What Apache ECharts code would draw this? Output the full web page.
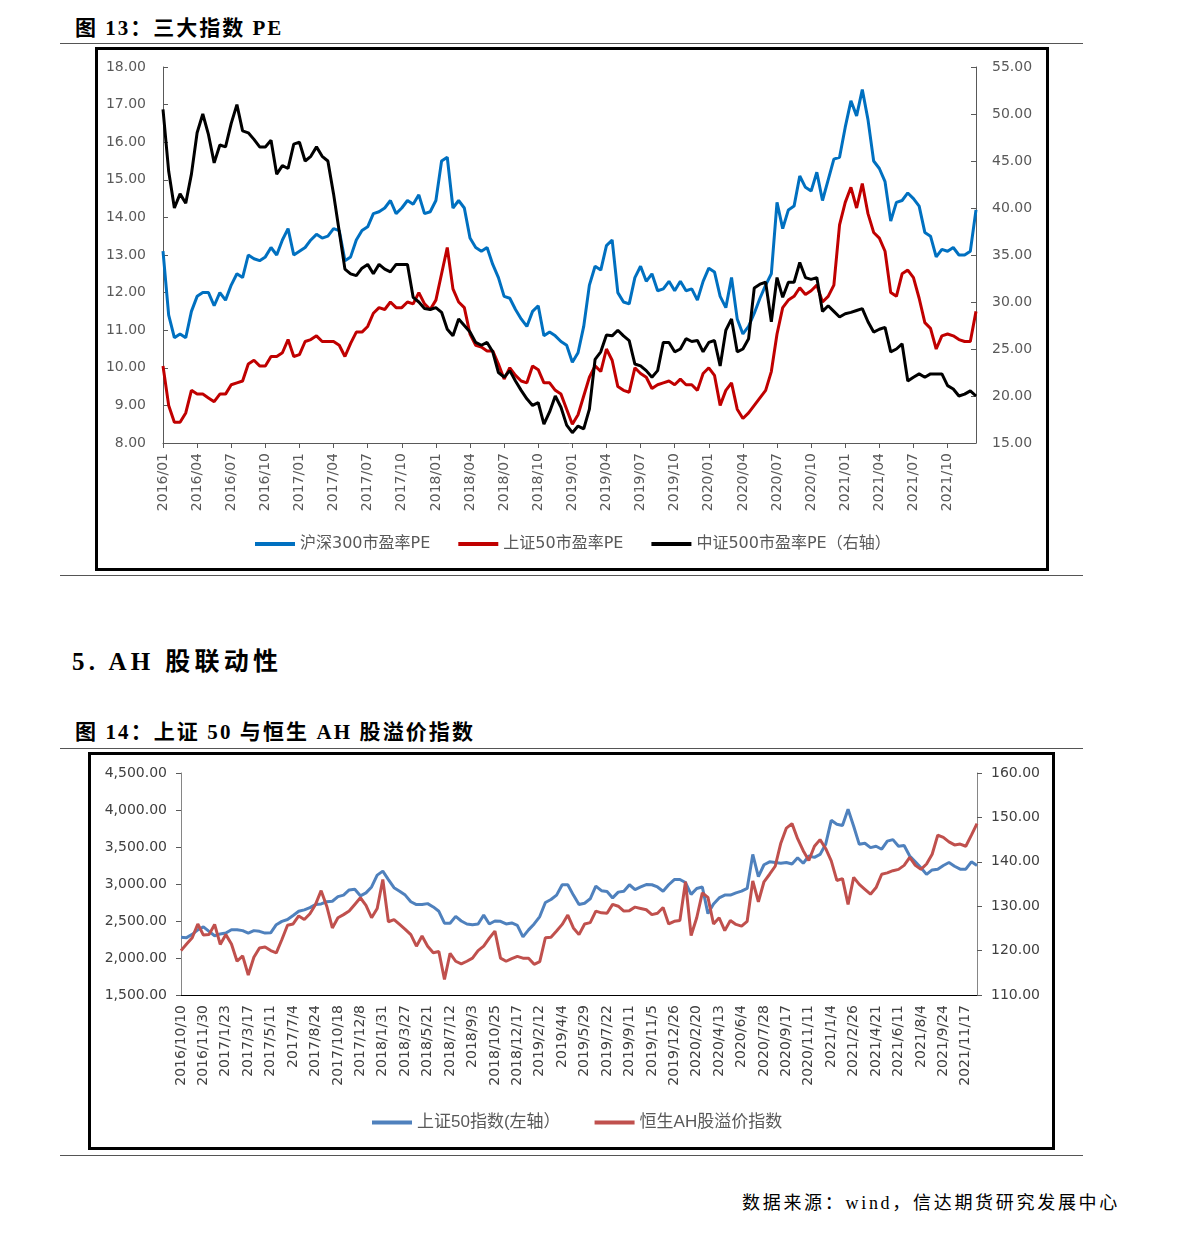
<!DOCTYPE html>
<html>
<head>
<meta charset="utf-8">
<script src="https://cdn.jsdelivr.net/npm/echarts/dist/echarts.min.js"></script>
<style>
  body { margin: 0; background: #fff; }
  #page { position: relative; width: 1191px; height: 1234px; overflow: hidden; background: #fff; }
  .t { position: absolute; line-height: 1; white-space: nowrap; color: #000;
       font-family: "Liberation Serif", "Noto Sans CJK SC", serif; font-weight: bold; }
  .rule { position: absolute; left: 60px; width: 1023px; height: 1px; background: #555; }
  .box { position: absolute; border: 3px solid #000; box-sizing: border-box; }
  #chart { position: absolute; left: 0; top: 0; width: 1191px; height: 1234px; }
</style>
</head>
<body>
<div id="page">
  <div class="t" style="left:75px;top:18px;font-size:21px;letter-spacing:2px;">图 13：三大指数 PE</div>
  <div class="rule" style="top:43px;"></div>
  <div class="box" style="left:95px;top:47px;width:954px;height:524px;"></div>
  <div class="rule" style="top:575px;"></div>

  <div class="t" style="left:72px;top:649px;font-size:25px;letter-spacing:4.3px;">5. AH 股联动性</div>
  <div class="t" style="left:75px;top:722px;font-size:21px;letter-spacing:2.1px;">图 14：上证 50 与恒生 AH 股溢价指数</div>
  <div class="rule" style="top:748px;"></div>
  <div class="box" style="left:88px;top:752px;width:967px;height:398px;"></div>
  <div class="rule" style="top:1155px;"></div>

  <div class="t" style="left:742px;top:1194px;font-size:18px;font-weight:normal;letter-spacing:2.7px;">数据来源：wind，信达期货研究发展中心</div>

  <div id="chart"></div>
</div>
<script>
// ---- 图13 三大指数PE, 半月取样 (2016/01 - 2021/12) ----
const peYears = [2016, 2017, 2018, 2019, 2020, 2021];
const peDates = [];
peYears.forEach(function (y) {
    for (let m = 1; m <= 12; m++) {
        const mm = String(m).padStart(2, '0');
        peDates.push(y + '/' + mm + '/01', y + '/' + mm + '/16');
    }
});

// 沪深300市盈率PE (左轴)
const hs300Pe = [
    13.1, 11.4, 10.8, 10.9, 10.8, 11.5, 11.9, 12.0, 12.0, 11.65, 12.0, 11.8, 12.2, 12.5, 12.4, 13.0, 12.9, 12.85, 12.95, 13.2, 13.0, 13.4, 13.7, 13.0,
    13.1, 13.2, 13.4, 13.55, 13.45, 13.5, 13.7, 13.65, 12.85, 12.95, 13.4, 13.65, 13.75, 14.1, 14.15, 14.25, 14.45, 14.1, 14.25, 14.45, 14.35, 14.6, 14.1, 14.15,
    14.45, 15.5, 15.6, 14.25, 14.45, 14.25, 13.45, 13.2, 13.1, 13.2, 12.75, 12.4, 11.9, 11.85, 11.55, 11.3, 11.1, 11.5, 11.65, 10.85, 10.95, 10.85, 10.7, 10.6,
    10.15, 10.4, 11.1, 12.2, 12.7, 12.6, 13.25, 13.4, 12.0, 11.75, 11.7, 12.4, 12.7, 12.3, 12.5, 12.05, 12.1, 12.3, 12.05, 12.3, 12.05, 12.1, 11.8, 12.3,
    12.65, 12.55, 11.9, 11.6, 12.4, 11.3, 10.9, 11.1, 11.45, 11.85, 12.2, 12.5, 14.4, 13.7, 14.2, 14.3, 15.1, 14.8, 14.7, 15.2, 14.45, 15.0, 15.55, 15.6,
    16.4, 17.1, 16.7, 17.4, 16.6, 15.5, 15.3, 14.95, 13.9, 14.4, 14.45, 14.65, 14.5, 14.3, 13.6, 13.5, 12.95, 13.15, 13.1, 13.2, 13.0, 13.0, 13.1, 14.2
];
// 上证50市盈率PE (左轴)
const sz50Pe = [
    10.05, 9.0, 8.55, 8.55, 8.8, 9.4, 9.3, 9.3, 9.2, 9.1, 9.3, 9.3, 9.55, 9.6, 9.65, 10.1, 10.2, 10.05, 10.05, 10.3, 10.3, 10.4, 10.75, 10.3,
    10.35, 10.7, 10.75, 10.85, 10.7, 10.7, 10.7, 10.6, 10.3, 10.65, 10.95, 10.95, 11.1, 11.45, 11.6, 11.55, 11.75, 11.6, 11.6, 11.75, 11.7, 12.0, 11.7, 11.55,
    11.8, 12.5, 13.2, 12.1, 11.75, 11.6, 10.9, 10.6, 10.55, 10.45, 10.45, 10.1, 9.7, 10.0, 9.8, 9.65, 9.6, 10.05, 9.95, 9.6, 9.6, 9.4, 9.3, 8.9,
    8.5, 8.75, 9.25, 9.75, 10.05, 9.9, 10.5, 10.2, 9.5, 9.4, 9.35, 10.0, 9.85, 9.75, 9.45, 9.55, 9.6, 9.65, 9.55, 9.7, 9.55, 9.55, 9.4, 9.85,
    10.0, 9.8, 9.0, 9.4, 9.6, 8.9, 8.65, 8.8, 9.0, 9.2, 9.4, 9.9, 10.9, 11.6, 11.8, 11.9, 12.13, 11.95, 12.05, 12.2, 11.75, 11.9, 12.2, 13.8,
    14.4, 14.8, 14.25, 14.9, 14.1, 13.6, 13.45, 13.1, 12.0, 11.9, 12.5, 12.6, 12.4, 11.85, 11.2, 11.05, 10.5, 10.85, 10.9, 10.85, 10.75, 10.7, 10.7, 11.5
];
// 中证500市盈率PE (右轴)
const csi500Pe = [
    50.5, 43.9, 40.0, 41.5, 40.5, 43.6, 48.0, 50.0, 47.8, 44.8, 46.7, 46.5, 49.0, 51.0, 48.2, 48.0, 47.3, 46.5, 46.5, 47.2, 43.6, 44.5, 44.2, 46.8,
    47.0, 45.0, 45.5, 46.5, 45.5, 45.0, 41.5, 37.5, 33.5, 33.0, 32.8, 33.6, 34.0, 33.0, 34.0, 33.5, 33.2, 34.0, 34.0, 34.0, 30.5, 30.0, 29.3, 29.2,
    29.4, 28.9, 27.1, 26.4, 28.2, 27.5, 26.8, 25.7, 25.4, 25.7, 24.7, 22.5, 22.0, 22.7, 21.6, 20.6, 19.7, 19.0, 19.3, 17.0, 18.3, 20.0, 18.8, 16.9,
    16.1, 16.8, 16.5, 18.6, 23.9, 24.7, 26.5, 26.4, 27.0, 26.4, 25.9, 23.4, 23.2, 22.7, 22.0, 22.7, 25.7, 25.7, 24.7, 25.0, 26.1, 25.8, 25.9, 24.7,
    25.7, 25.9, 23.2, 27.0, 28.2, 24.7, 25.0, 26.1, 31.5, 31.9, 32.1, 27.9, 32.6, 30.5, 32.1, 32.1, 34.2, 32.6, 32.4, 32.6, 29.0, 29.6, 29.0, 28.4,
    28.75, 28.9, 29.1, 29.3, 27.9, 26.8, 27.1, 27.3, 24.7, 25.0, 25.55, 21.6, 22.0, 22.35, 22.0, 22.35, 22.35, 22.35, 21.1, 20.75, 20.0, 20.2, 20.55, 20.0
];

// ---- 图14 上证50 与 恒生AH股溢价指数 ----
const ahTickDates = ['2016/10/10', '2016/11/30', '2017/1/23', '2017/3/17', '2017/5/11', '2017/7/4', '2017/8/24', '2017/10/18',
    '2017/12/8', '2018/1/31', '2018/3/27', '2018/5/21', '2018/7/12', '2018/9/3', '2018/10/25', '2018/12/17', '2019/2/12',
    '2019/4/4', '2019/5/29', '2019/7/22', '2019/9/11', '2019/11/5', '2019/12/26', '2020/2/20', '2020/4/13', '2020/6/4',
    '2020/7/28', '2020/9/17', '2020/11/11', '2021/1/4', '2021/2/26', '2021/4/21', '2021/6/11', '2021/8/4', '2021/9/24', '2021/11/17'];
const AH_STEP = 4; // 每个刻度间取 4 个点

// 上证50指数 (左轴)
const sz50Index = [
    2280, 2275, 2320, 2380, 2420, 2360, 2300, 2325, 2337, 2382, 2382, 2370, 2337, 2370, 2360, 2337, 2340, 2450, 2495, 2520, 2575, 2631, 2650, 2680, 2722, 2730, 2760, 2767, 2830, 2850, 2920, 2930, 2840, 2880, 2960,
    3120, 3174, 3060, 2950, 2903, 2850, 2760, 2722, 2722, 2735, 2690, 2631, 2470, 2470, 2563, 2500, 2460, 2450, 2460, 2580, 2460, 2500, 2495, 2460, 2473, 2440, 2285, 2380, 2460, 2560, 2750, 2790, 2850, 2990, 2990,
    2850, 2722, 2740, 2800, 2971, 2910, 2900, 2812, 2890, 2903, 2990, 2925, 2960, 2993, 2990, 2960, 2903, 2990, 3060, 3061, 3020, 2860, 2940, 2960, 2600, 2730, 2812, 2850, 2850, 2880, 2903, 2940, 3400, 3100, 3260,
    3300, 3290, 3280, 3290, 3270, 3355, 3280, 3378, 3360, 3400, 3536, 3860, 3808, 3790, 4011, 3780, 3536, 3550, 3491, 3510, 3470, 3580, 3600, 3510, 3520, 3378, 3300, 3220, 3130, 3190, 3200, 3250, 3290, 3240, 3200, 3200, 3300, 3250
];
// 恒生AH股溢价指数 (右轴)
const hsAhIndex = [
    120.0, 121.5, 122.9, 126.0, 123.5, 123.6, 125.9, 121.4, 123.6, 121.5, 117.6, 118.8, 114.5, 118.5, 120.6, 120.8, 120.0, 119.5, 122.5, 125.7, 126.0, 127.8, 127.0, 128.3, 130.4, 133.5, 130.0, 125.1, 127.4, 128.1, 128.9, 130.4, 131.9, 130.2, 127.4,
    129.5, 136.0, 126.5, 127.0, 125.9, 124.8, 123.6, 121.0, 123.3, 121.0, 119.5, 119.8, 113.5, 119.4, 117.6, 117.0, 117.6, 118.3, 120.0, 121.0, 122.8, 124.4, 118.3, 117.6, 118.2, 118.7, 118.3, 118.3, 116.9, 117.5, 122.9, 123.0, 124.4, 125.9, 128.0,
    125.1, 123.6, 126.0, 126.3, 128.9, 128.5, 128.4, 130.4, 130.0, 128.9, 129.0, 129.8, 129.5, 129.2, 128.1, 128.4, 129.7, 126.0, 126.6, 126.8, 135.5, 123.4, 127.4, 133.0, 132.0, 126.0, 127.4, 124.5, 126.8, 125.9, 125.5, 126.6, 135.7, 131.0, 135.5,
    137.2, 139.0, 144.2, 147.6, 148.6, 145.2, 142.5, 140.3, 143.5, 145.0, 143.0, 140.2, 135.8, 136.2, 130.4, 136.5, 134.9, 133.8, 132.7, 134.2, 137.2, 137.5, 138.0, 138.3, 139.2, 141.0, 139.2, 138.3, 139.5, 141.7, 146.0, 145.5, 144.5, 143.8, 144.0, 143.5, 146.0, 148.6
];

// 由刻度日期生成类目(刻度之间补中间日期)
function parseDay(s) {
    const p = s.split('/');
    return new Date(+p[0], +p[1] - 1, +p[2]).getTime();
}
function fmtDay(t) {
    const d = new Date(t);
    return d.getFullYear() + '/' + (d.getMonth() + 1) + '/' + d.getDate();
}
const ahDates = [];
for (let j = 0; j < ahTickDates.length; j++) {
    const t0 = parseDay(ahTickDates[j]);
    const span = j < ahTickDates.length - 1 ? parseDay(ahTickDates[j + 1]) - t0 : t0 - parseDay(ahTickDates[j - 1]);
    ahDates.push(ahTickDates[j]);
    const extra = j < ahTickDates.length - 1 ? AH_STEP - 1 : sz50Index.length - ahDates.length;
    for (let s = 1; s <= extra; s++) ahDates.push(fmtDay(t0 + span * s / AH_STEP));
}

const sans = 'DejaVu Sans, Noto Sans CJK SC, sans-serif';
const grey = '#595959';

function isPeTick(idx, val) {
    return val.slice(8) === '01' && ['01', '04', '07', '10'].indexOf(val.slice(5, 7)) >= 0;
}
function isAhTick(idx) {
    return idx % AH_STEP === 0;
}
function thousands(v) {
    return v.toFixed(2).replace(/\B(?=(\d{3})+(?!\d))/g, ',');
}

const chart = echarts.init(document.getElementById('chart'));
const option = {
    animation: false,
    legend: [
        {
            data: ['沪深300市盈率PE', '上证50市盈率PE', '中证500市盈率PE（右轴）'],
            left: 250, top: 531, icon: 'rect', itemWidth: 40, itemHeight: 4, itemGap: 28,
            textStyle: { fontSize: 16, color: grey, fontFamily: sans }
        },
        {
            data: ['上证50指数(左轴）', '恒生AH股溢价指数'],
            left: 367, top: 1109, icon: 'rect', itemWidth: 40, itemHeight: 4, itemGap: 34,
            textStyle: { fontSize: 17, color: grey, fontFamily: 'Liberation Sans, Noto Sans CJK SC, sans-serif' }
        }
    ],
    grid: [
        { left: 163, top: 67, width: 813, height: 376, outerBoundsMode: 'none' },
        { left: 181, top: 773, width: 796, height: 222, outerBoundsMode: 'none' }
    ],
    xAxis: [
        {
            gridIndex: 0, type: 'category', data: peDates, boundaryGap: false,
            axisLine: { lineStyle: { color: grey } },
            axisTick: { interval: isPeTick, length: 5, lineStyle: { color: grey } },
            axisLabel: {
                interval: isPeTick, rotate: 90, margin: 10, color: grey, fontSize: 14, fontFamily: sans,
                formatter: function (v) { return v.slice(0, 7); }
            },
            splitLine: { show: false }
        },
        {
            gridIndex: 1, type: 'category', data: ahDates, boundaryGap: false,
            axisLine: { lineStyle: { color: '#000' } },
            axisTick: { show: false },
            axisLabel: { interval: isAhTick, rotate: 90, margin: 10, color: '#404040', fontSize: 14, fontFamily: sans },
            splitLine: { show: false }
        }
    ],
    yAxis: [
        {
            gridIndex: 0, type: 'value', position: 'left', min: 8, max: 18, interval: 1,
            axisLine: { show: true, lineStyle: { color: grey } },
            axisTick: { show: true, inside: true, length: 5 },
            axisLabel: { margin: 17, color: grey, fontSize: 14, fontFamily: sans, formatter: function (v) { return v.toFixed(2); } },
            splitLine: { show: false }
        },
        {
            gridIndex: 0, type: 'value', position: 'right', min: 15, max: 55, interval: 5,
            axisLine: { show: true, lineStyle: { color: grey } },
            axisTick: { show: true, inside: true, length: 5 },
            axisLabel: { margin: 16, color: grey, fontSize: 14, fontFamily: sans, formatter: function (v) { return v.toFixed(2); } },
            splitLine: { show: false }
        },
        {
            gridIndex: 1, type: 'value', position: 'left', min: 1500, max: 4500, interval: 500,
            axisLine: { show: true, lineStyle: { color: '#868686' } },
            axisTick: { show: true, length: 5, lineStyle: { color: '#595959' } },
            axisLabel: { margin: 14, color: '#404040', fontSize: 14, fontFamily: sans, formatter: thousands },
            splitLine: { show: false }
        },
        {
            gridIndex: 1, type: 'value', position: 'right', min: 110, max: 160, interval: 10,
            axisLine: { show: true, lineStyle: { color: '#868686' } },
            axisTick: { show: true, length: 5, lineStyle: { color: '#595959' } },
            axisLabel: { margin: 14, color: '#404040', fontSize: 14, fontFamily: sans, formatter: function (v) { return v.toFixed(2); } },
            splitLine: { show: false }
        }
    ],
    series: [
        { name: '沪深300市盈率PE', type: 'line', xAxisIndex: 0, yAxisIndex: 0, data: hs300Pe, showSymbol: false, color: '#0070C0', lineStyle: { width: 3 } },
        { name: '上证50市盈率PE', type: 'line', xAxisIndex: 0, yAxisIndex: 0, data: sz50Pe, showSymbol: false, color: '#C00000', lineStyle: { width: 3 } },
        { name: '中证500市盈率PE（右轴）', type: 'line', xAxisIndex: 0, yAxisIndex: 1, data: csi500Pe, showSymbol: false, color: '#000000', lineStyle: { width: 3 } },
        { name: '上证50指数(左轴）', type: 'line', xAxisIndex: 1, yAxisIndex: 2, data: sz50Index, showSymbol: false, color: '#4F81BD', lineStyle: { width: 3 } },
        { name: '恒生AH股溢价指数', type: 'line', xAxisIndex: 1, yAxisIndex: 3, data: hsAhIndex, showSymbol: false, color: '#C0504D', lineStyle: { width: 3 } }
    ]
};
chart.setOption(option);
</script>
</body>
</html>
